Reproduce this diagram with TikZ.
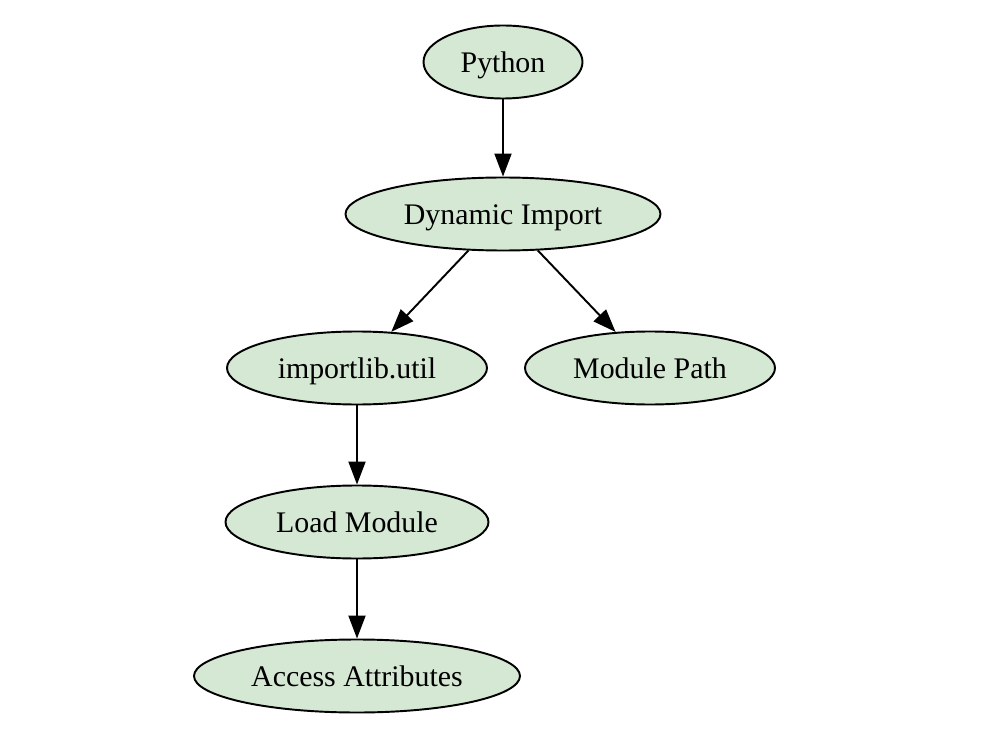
\documentclass[tikz,border=0pt]{standalone}
\usepackage{fontspec}
\setmainfont{Liberation Serif}
\usepackage{tikz}
\usetikzlibrary{arrows.meta, positioning, shapes.geometric}
\definecolor{nodefill}{HTML}{D5E8D4}

\begin{document}
\begin{tikzpicture}[
  >={Triangle[length=0.46cm, width=0.34cm]},
  on grid,
  node distance=3.08cm,
  every node/.style={font=\fontsize{17}{20}\selectfont},
  stage/.style={ellipse, draw=black, fill=nodefill, line width=1.1pt,
                inner sep=0pt, minimum height=1.46cm,
                text height=11.4pt, text depth=0pt},
  link/.style={->, line width=1.1pt, color=black}
]
  \useasboundingbox (0,0) rectangle (19.8,-14.64);

  \node[stage, minimum width=3.18cm] (python) at (10.06,-1.24) {Python};
  \node[stage, minimum width=6.30cm, below=3.04cm of python] (dynimport) {Dynamic Import};
  \node[stage, minimum width=5.20cm, below left=3.08cm and 2.92cm of dynimport] (importlib) {importlib.util};
  \node[stage, minimum width=5.00cm, right=5.86cm of importlib] (modpath) {Module Path};
  \node[stage, minimum width=5.26cm, below=of importlib] (loadmod) {Load Module};
  \node[stage, minimum width=6.52cm, below=of loadmod] (access) {Access Attributes};

  \draw[link] (python)    -- (dynimport);
  \draw[link] (dynimport) -- (importlib);
  \draw[link] (dynimport) -- (modpath);
  \draw[link] (importlib) -- (loadmod);
  \draw[link] (loadmod)   -- (access);
\end{tikzpicture}
\end{document}
